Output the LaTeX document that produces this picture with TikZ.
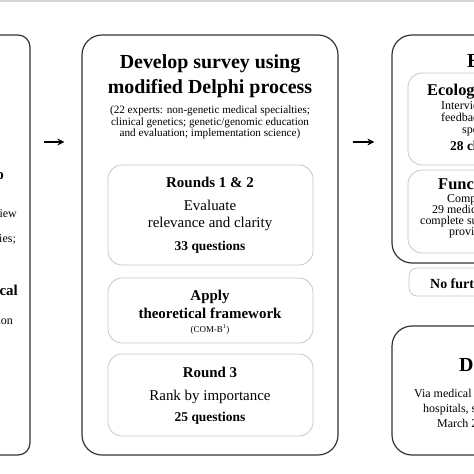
\documentclass[tikz,border=0pt]{standalone}
\usepackage{fontspec}
\setmainfont{Liberation Serif}
\usetikzlibrary{arrows.meta}

\tikzset{
  outerbox/.style = {draw = black!80, line width = 1.2bp, rounded corners = 20bp},
  innerbox/.style = {draw = black!22, line width = 0.8bp, rounded corners = 14bp},
  flow/.style = {-{Stealth[length = 7bp, width = 7bp]}, line width = 1.8bp},
  txt/.style = {inner sep = 0pt, anchor = base},
  big/.style = {font = \fontsize{20}{24}\selectfont\bfseries},
  head/.style = {font = \fontsize{15}{18}\selectfont\bfseries},
  sidehead/.style = {font = \fontsize{16.5}{19}\selectfont\bfseries},
  body/.style = {font = \fontsize{15}{18}\selectfont},
  count/.style = {font = \fontsize{13.5}{16}\selectfont\bfseries},
  note/.style = {font = \fontsize{11.2}{12}\selectfont},
  small/.style = {font = \fontsize{12}{13}\selectfont},
}

\begin{document}
\begin{tikzpicture}[x = 1bp, y = -1bp]
  \useasboundingbox (0, 0) rectangle (474, 474);
  \clip (0, 0) rectangle (474, 474);
  \fill[black!16] (0, 0) rectangle (474, 2);

  % left column (cut off)
  \node (lit) at (-90, 245) [outerbox, rounded corners = 12bp, minimum width = 240bp, minimum height = 420bp] {};
  \node (lita) at (4, 180) [txt, anchor = base east, head] {Identify gaps to};
  \node (litb) at (17, 218) [txt, anchor = base east, small] {narrative review};
  \node (litc) at (16, 242) [txt, anchor = base east, small] {medical specialties;};
  \node (litd) at (18, 295) [txt, anchor = base east, head] {Theoretical};
  \node (lite) at (13, 324) [txt, anchor = base east, small] {implementation};

  % middle column
  \node (delphi) at (210, 245) [outerbox, minimum width = 256bp, minimum height = 420bp] {};
  \node (titlea) at (210, 69) [txt, big] {Develop survey using};
  \node (titleb) at (210, 94) [txt, big] {modified Delphi process};
  \node (expa) at (210, 114) [txt, note] {(22 experts: non-genetic medical specialties;};
  \node (expb) at (210, 126) [txt, note] {clinical genetics; genetic/genomic education};
  \node (expc) at (210, 137) [txt, note] {and evaluation; implementation science)};

  \node (rounds) at (210.5, 215) [innerbox, minimum width = 205bp, minimum height = 100bp] {};
  \node at (210, 188) [txt, head] {Rounds 1 \& 2};
  \node at (210, 211) [txt, body] {Evaluate};
  \node at (210, 228) [txt, body] {relevance and clarity};
  \node at (210, 250) [txt, count] {33 questions};

  \node (frame) at (210.5, 310.5) [innerbox, minimum width = 205bp, minimum height = 65bp] {};
  \node at (210, 300) [txt, head] {Apply};
  \node at (210, 318) [txt, head] {theoretical framework};
  \node at (210, 332) [txt, font = \fontsize{9}{10}\selectfont] {(COM-B\textsuperscript{1})};

  \node (rank) at (210.5, 395) [innerbox, minimum width = 205bp, minimum height = 82bp] {};
  \node at (210, 377) [txt, head] {Round 3};
  \node at (210, 400) [txt, body] {Rank by importance};
  \node at (210, 421) [txt, count] {25 questions};

  % right column (cut off)
  \node (evaluate) at (542, 149) [outerbox, minimum width = 300bp, minimum height = 228bp] {};
  \node at (467, 68) [txt, anchor = base west, big] {Evaluate survey};
  \node (ecol) at (550, 119) [innerbox, minimum width = 284bp, minimum height = 92bp] {};
  \node at (427, 96) [txt, anchor = base west, sidehead] {Ecological validity};
  \node at (441, 110) [txt, anchor = base west, small] {Interviews with};
  \node at (441, 122) [txt, anchor = base west, small] {feedback from};
  \node at (462, 134) [txt, anchor = base west, small] {specialists};
  \node at (450, 151) [txt, anchor = base west, count] {28 clinicians};
  \node (func) at (550, 211.5) [innerbox, minimum width = 284bp, minimum height = 83bp] {};
  \node at (438, 190) [txt, anchor = base west, sidehead] {Functionality};
  \node at (447, 203) [txt, anchor = base west, small] {Completed by};
  \node at (432, 214) [txt, anchor = base west, small] {29 medical specialists};
  \node at (420, 225) [txt, anchor = base west, small] {complete survey and};
  \node at (449, 236) [txt, anchor = base west, small] {provide feedback};
  \node (nochange) at (550, 282) [innerbox, rounded corners = 8bp, minimum width = 282bp, minimum height = 28bp] {};
  \node at (430, 288) [txt, anchor = base west, font = \fontsize{14}{16}\selectfont\bfseries] {No further changes};

  \node (deploy) at (542, 390.5) [outerbox, minimum width = 300bp, minimum height = 129bp] {};
  \node at (459, 371) [txt, anchor = base west, big] {Deploy survey};
  \node at (414, 397) [txt, anchor = base west, small] {Via medical colleges,};
  \node at (423, 412) [txt, anchor = base west, small] {hospitals, societies};
  \node at (437, 427) [txt, anchor = base west, small] {March 2021};

  % arrows between columns
  \coordinate (row) at (0, 142);
  \draw[flow] ([xshift = 13bp] lit.east |- row) -- ([xshift = -17bp] delphi.west |- row);
  \draw[flow] ([xshift = 14bp] delphi.east |- row) -- ([xshift = -17bp] evaluate.west |- row);
\end{tikzpicture}
\end{document}
